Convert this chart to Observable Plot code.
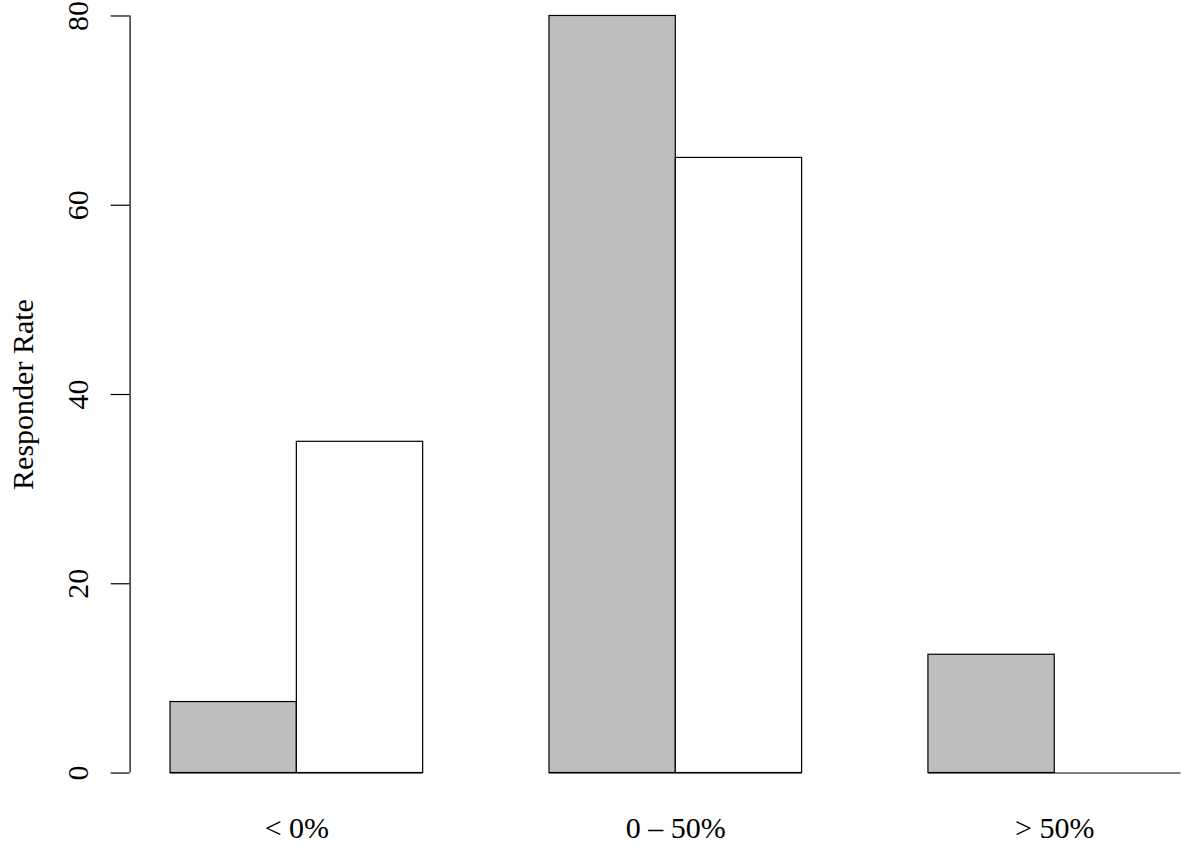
<!DOCTYPE html>
<html><head><meta charset="utf-8">
<script src="https://cdn.jsdelivr.net/npm/d3@7"></script>
<script src="https://cdn.jsdelivr.net/npm/@observablehq/plot@0.6"></script>
<style>html,body{margin:0;padding:0;background:#fff;overflow:hidden} svg text{font-family:"Liberation Serif","Times New Roman",serif}</style>
</head><body><div id="chart"></div>
<script>
const categories = ["< 0%", "0 – 50%", "> 50%"];
const seriesNames = ["A", "B"];
const seriesA = [7.5, 80, 12.5];
const seriesB = [35, 65, 0];
const yTicks = [0, 20, 40, 60, 80];
const yLabel = "Responder Rate";

// R barplot(beside=TRUE) layout: bar width 1, one-unit gap between groups
const seriesValues = [seriesA, seriesB];
const bars = [];
categories.forEach((c, i) => {
  seriesValues.forEach((arr, s) => {
    const x1 = 1 + i * (seriesValues.length + 1) + s;
    bars.push({category: c, series: seriesNames[s], value: arr[i], x1, x2: x1 + 1});
  });
});
const centers = categories.map((c, i) => 1 + i * (seriesValues.length + 1) + seriesValues.length / 2);
const xlim = [d3.min(bars, d => d.x1), d3.max(bars, d => d.x2)];
const xr = xlim[1] - xlim[0];
const xDomain = [xlim[0] - 0.04 * xr, xlim[1] + 0.04 * xr];
const ylim = [0, d3.max(yTicks)];
const yDomain = [ylim[0] - 0.04 * (ylim[1] - ylim[0]), ylim[1] + 0.04 * (ylim[1] - ylim[0])];

const font = "Liberation Serif";
const chart = Plot.plot({
  width: 1182,
  height: 847,
  marginLeft: 129.6,
  marginRight: 0,
  marginTop: 0,
  marginBottom: 44.2,
  style: {fontFamily: font, fontSize: "30px", background: "white", color: "black", overflow: "visible"},
  x: {domain: xDomain, range: [129.6, 1221], axis: null},
  y: {domain: yDomain, range: [802.8, -14.8], axis: null},
  color: {domain: seriesNames, range: ["#bebebe", "#ffffff"]},
  marks: [
    Plot.rect(bars, {x1: "x1", x2: "x2", y1: 0, y2: "value", fill: "series", stroke: "black", strokeWidth: 1.2}),
    Plot.ruleY(bars, {y: 0, x1: "x1", x2: "x2", stroke: "black", strokeWidth: 1.2}),
    Plot.ruleX([xDomain[0]], {y1: ylim[0], y2: ylim[1], stroke: "black", strokeWidth: 1.2}),
    Plot.axisY({ticks: yTicks, tickSize: 19, fill: "none", stroke: "black", strokeWidth: 1.2, label: null, anchor: "left"}),
    Plot.text(yTicks, {frameAnchor: "left", y: d => d, text: d => String(d), rotate: -90,
      textAnchor: "middle", lineAnchor: "bottom", dx: -42.6, fontSize: 30, fontFamily: font, fill: "black"}),
    Plot.text(categories, {x: (d, i) => centers[i], frameAnchor: "bottom", text: d => d,
      textAnchor: "middle", lineAnchor: "bottom", dy: 34.2, fontSize: 30, fontFamily: font, fill: "black"}),
    Plot.text([yLabel], {frameAnchor: "left", y: [(ylim[0] + ylim[1]) / 2], text: d => d, rotate: -90,
      textAnchor: "middle", lineAnchor: "bottom", dx: -97.6, fontSize: 30, fontFamily: font, fill: "black"})
  ]
});
document.getElementById("chart").appendChild(chart);
</script>
</body></html>
